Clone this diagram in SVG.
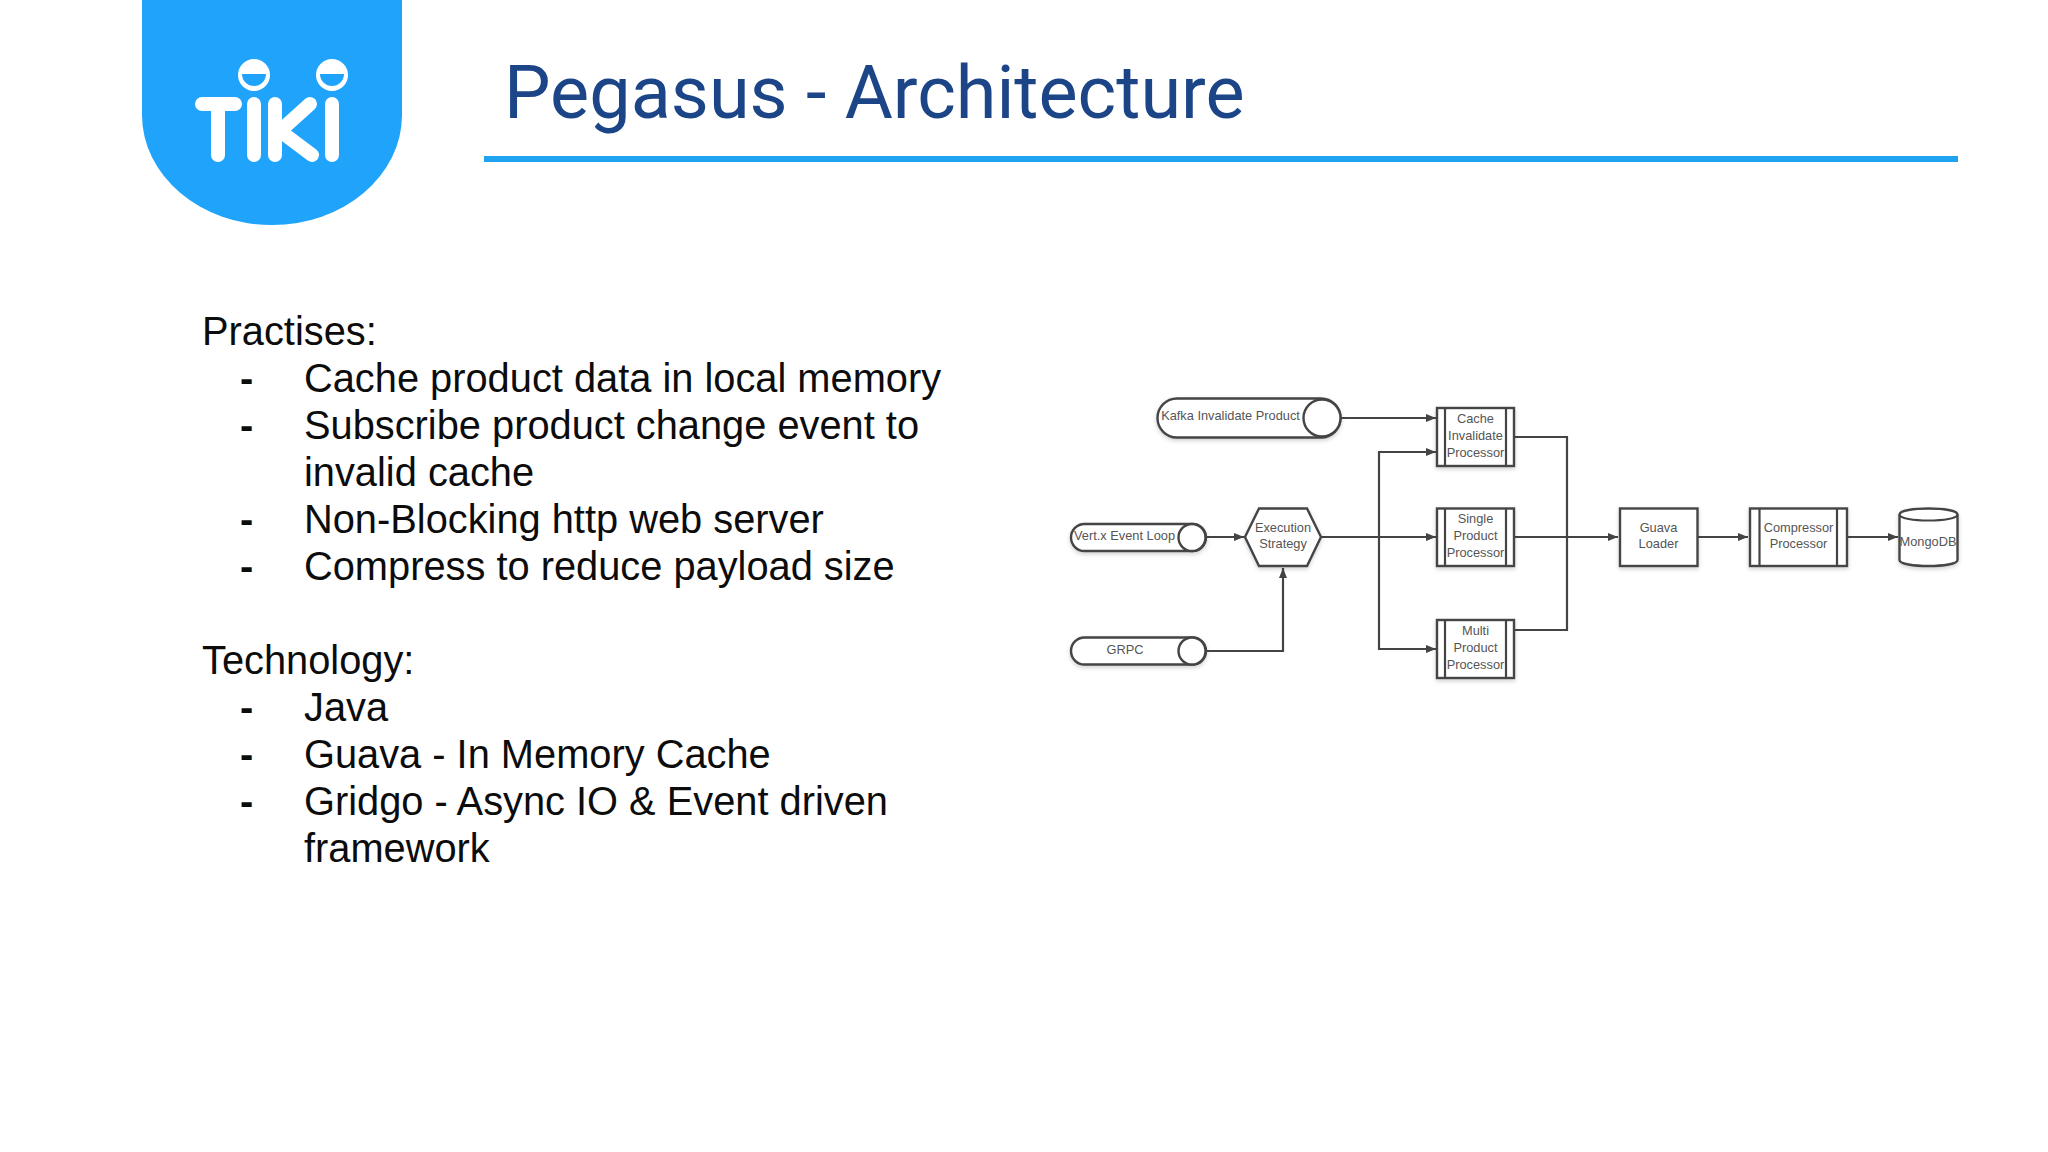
<svg xmlns="http://www.w3.org/2000/svg" width="2048" height="1152" viewBox="0 0 2048 1152">
<defs>
<style>
.body{font-family:"Liberation Sans",Arial,sans-serif;font-size:39.8px;fill:#0c0c0c}
.dash{font-weight:bold}
.title{font-family:Roboto,"Liberation Sans",sans-serif;font-size:73.8px;fill:#1c4587}
.n{fill:#fff;stroke:#444;stroke-width:2.4;filter:url(#sh)}
.l{fill:none;stroke:#444;stroke-width:2.2}
.c{fill:none;stroke:#444;stroke-width:2.2;marker-end:url(#a)}
.t{font-family:"Liberation Sans",Arial,sans-serif;font-size:12.8px;fill:#555;text-anchor:middle}
.lg{fill:none;stroke:#fff;stroke-width:14;stroke-linecap:round;stroke-linejoin:round}
</style>
<filter id="sh" x="-20%" y="-20%" width="140%" height="150%"><feDropShadow dx="0" dy="2" stdDeviation="2" flood-color="#000" flood-opacity="0.18"/></filter>
<marker id="a" viewBox="0 0 10 8" refX="10" refY="4" markerWidth="11" markerHeight="8" markerUnits="userSpaceOnUse" orient="auto"><path d="M0 0L10 4L0 8Z" fill="#444"/></marker>
</defs>
<rect width="2048" height="1152" fill="#fff"/>
<g id="logo">
<path d="M142 0H402V115A130 110 0 0 1 142 115Z" fill="#1fa3fb"/>
<path class="lg" d="M202 104H235M218 104V155M254 104V155M275 104V155M310 104L280 131L312 155M332 104V155"/>
<g fill="#fff"><circle cx="254" cy="75" r="16"/><circle cx="332" cy="75" r="16"/></g>
<g fill="#1fa3fb"><path d="M242 74H266A12 12 0 0 1 242 74Z"/><path d="M320 74H344A12 12 0 0 1 320 74Z"/></g>
</g>
<text class="title" x="504" y="118">Pegasus - Architecture</text>
<rect x="484" y="156" width="1474" height="6" fill="#1fa3f0"/>
<g id="bullets" class="body">
<text x="202" y="345">Practises:</text>
<text class="dash" x="240" y="392">-</text><text x="304" y="392">Cache product data in local memory</text>
<text class="dash" x="240" y="439">-</text><text x="304" y="439">Subscribe product change event to</text>
<text x="304" y="486">invalid cache</text>
<text class="dash" x="240" y="533">-</text><text x="304" y="533">Non-Blocking http web server</text>
<text class="dash" x="240" y="580">-</text><text x="304" y="580">Compress to reduce payload size</text>
<text x="202" y="674">Technology:</text>
<text class="dash" x="240" y="721">-</text><text x="304" y="721">Java</text>
<text class="dash" x="240" y="768">-</text><text x="304" y="768">Guava - In Memory Cache</text>
<text class="dash" x="240" y="815">-</text><text x="304" y="815">Gridgo - Async IO &amp; Event driven</text>
<text x="304" y="862">framework</text>
</g>
<g id="connectors">
<path class="c" d="M1341 418H1436"/>
<path class="c" d="M1206 537H1244"/>
<path class="c" d="M1206 651H1283V568"/>
<path class="c" d="M1321 537H1436"/>
<path class="c" d="M1379 537V452H1436"/>
<path class="c" d="M1379 537V649H1436"/>
<path class="l" d="M1514 437H1567V630H1514"/>
<path class="c" d="M1514 537H1618"/>
<path class="c" d="M1697 537H1748"/>
<path class="c" d="M1847 537H1898"/>
</g>
<g id="kafka"><rect class="n" x="1157.500" y="398.500" width="183" height="39" rx="19.500"/><circle class="n" style="filter:none" cx="1322" cy="418" r="18.500"/><text class="t" x="1230.500" y="420">Kafka Invalidate Product</text></g>
<g id="vertx"><rect class="n" x="1071" y="524" width="135" height="27" rx="13.500"/><circle class="n" style="filter:none" cx="1192" cy="537.500" r="13.500"/><text class="t" x="1124.500" y="540">Vert.x Event Loop</text></g>
<g id="grpc"><rect class="n" x="1071" y="637.500" width="135" height="27" rx="13.500"/><circle class="n" style="filter:none" cx="1192" cy="651" r="13.500"/><text class="t" x="1125" y="654">GRPC</text></g>
<g id="execution"><path class="n" d="M1245 537L1259 508.500H1307L1321 537L1307 566H1259Z"/><text class="t" x="1283" y="532">Execution</text><text class="t" x="1283" y="548">Strategy</text></g>
<g id="cache"><rect class="n" x="1437" y="408" width="77" height="58"/><path class="l" d="M1445 408V466M1506 408V466"/><text class="t" x="1475.500" y="423">Cache</text><text class="t" x="1475.500" y="440">Invalidate</text><text class="t" x="1475.500" y="457">Processor</text></g>
<g id="single"><rect class="n" x="1437" y="508.500" width="77" height="57.500"/><path class="l" d="M1445 508V566M1506 508V566"/><text class="t" x="1475.500" y="523">Single</text><text class="t" x="1475.500" y="540">Product</text><text class="t" x="1475.500" y="557">Processor</text></g>
<g id="multi"><rect class="n" x="1437" y="620" width="77" height="58"/><path class="l" d="M1445 620V678M1506 620V678"/><text class="t" x="1475.500" y="635">Multi</text><text class="t" x="1475.500" y="652">Product</text><text class="t" x="1475.500" y="669">Processor</text></g>
<g id="guava"><rect class="n" x="1620" y="508.500" width="77.500" height="57.500"/><text class="t" x="1658.500" y="532">Guava</text><text class="t" x="1658.500" y="548">Loader</text></g>
<g id="compressor"><rect class="n" x="1750" y="508.500" width="97" height="57.500"/><path class="l" d="M1759.500 508V566M1837 508V566"/><text class="t" x="1798.500" y="532">Compressor</text><text class="t" x="1798.500" y="548">Processor</text></g>
<g id="mongodb"><path class="n" d="M1899.500 514.500V560C1899.500 568 1957.500 568 1957.500 560V514.500C1957.500 506.500 1899.500 506.500 1899.500 514.500Z"/><path class="l" d="M1899.500 514.500C1899.500 522.500 1957.500 522.500 1957.500 514.500"/><text class="t" x="1928" y="546">MongoDB</text></g>
</svg>
